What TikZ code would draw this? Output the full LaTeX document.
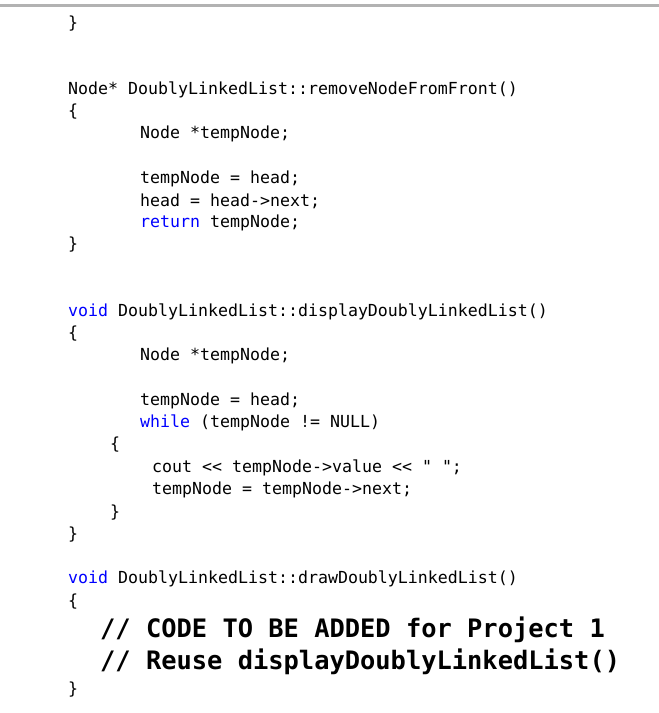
\documentclass[tikz,border=0pt]{standalone}
\usepackage{fontspec}
\setmonofont{DejaVu Sans Mono}
\definecolor{kw}{RGB}{0,0,255}
\tikzset{code/.style={anchor=west,inner sep=0pt,font=\ttfamily\fontsize{16.6}{20}\selectfont},
 big/.style={anchor=west,inner sep=0pt,font=\ttfamily\bfseries\fontsize{25.4}{30}\selectfont}}
\newcommand{\kw}[1]{\textcolor{kw}{#1}}
\begin{document}
\begin{tikzpicture}[x=1pt,y=-1pt]
\useasboundingbox (0,0) rectangle (659,713);
\fill[gray!60] (0,4) rectangle (659,7);
\begin{scope}[yshift=-2pt]
\node[code] (l1) at (68,22) {\}};
\node[code] (l2) at (68,88) {Node* DoublyLinkedList::removeNodeFromFront()};
\node[code] (l3) at (68,110) {\{};
\node[code] (l4) at (140,132) {Node *tempNode;};
\node[code] (l5) at (140,177) {tempNode = head;};
\node[code] (l6) at (140,199) {head = head->next;};
\node[code] (l7) at (140,221) {\kw{return} tempNode;};
\node[code] (l8) at (68,243) {\}};
\node[code] (l9) at (68,310) {\kw{void} DoublyLinkedList::displayDoublyLinkedList()};
\node[code] (l10) at (68,332) {\{};
\node[code] (l11) at (140,354) {Node *tempNode;};
\node[code] (l12) at (140,399) {tempNode = head;};
\node[code] (l13) at (140,421) {\kw{while} (tempNode != NULL)};
\node[code] (l14) at (110,443) {\{};
\node[code] (l15) at (152,466) {cout <{}< tempNode->value <{}< " ";};
\node[code] (l16) at (152,488) {tempNode = tempNode->next;};
\node[code] (l17) at (110,511) {\}};
\node[code] (l18) at (68,533) {\}};
\node[code] (l19) at (68,577) {\kw{void} DoublyLinkedList::drawDoublyLinkedList()};
\node[code] (l20) at (68,600) {\{};
\node[big] (l21) at (100,628) {// CODE TO BE ADDED for Project 1};
\node[big] (l22) at (100,660) {// Reuse displayDoublyLinkedList()};
\node[code] (l23) at (68,688) {\}};
\end{scope}
\end{tikzpicture}
\end{document}
